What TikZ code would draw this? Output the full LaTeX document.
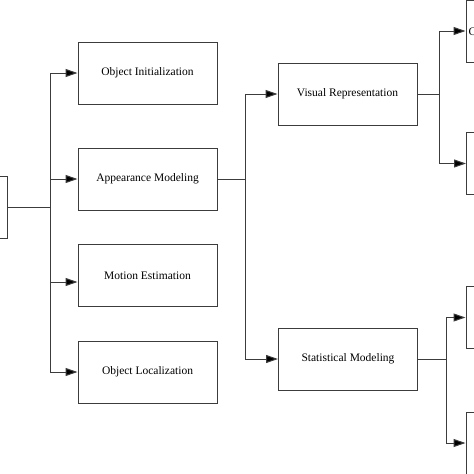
\documentclass[tikz,border=0pt]{standalone}
\usepackage{fontspec}
\setmainfont{Liberation Serif}
\usetikzlibrary{arrows.meta}

\definecolor{linegray}{HTML}{3C3C3C}

\begin{document}
\begin{tikzpicture}[
        x=1pt, y=1pt,
        box/.style={draw=linegray, line width=1pt, minimum width=139pt,
            minimum height=62pt, inner sep=0pt,
            font=\fontsize{11.5}{13}\selectfont},
        link/.style={draw=linegray, line width=1pt},
        arr/.style={link, -{Triangle[length=12pt,width=8pt,fill=black]}}
    ]
        \useasboundingbox (0,0) rectangle (474,-474);
        \clip (0,0) rectangle (474,-474);

        \node [box] (root) at (-62.5,-207) {};

        \node [box] (init) at (147.5,-73) {Object Initialization};
        \node [box] (app) at (147.5,-179) {Appearance Modeling};
        \node [box] (mot) at (147.5,-275.5) {Motion Estimation};
        \node [box] (loc) at (147.5,-372) {Object Localization};

        \node [box] (vis) at (347.5,-94) {Visual Representation};
        \node [box] (stat) at (348,-359) {Statistical Modeling};

        \node [box] (ra) at (535.5,-31) {};
        \node [box] (rb) at (536,-163.5) {};
        \node [box] (rc) at (535.5,-317.5) {};
        \node [box] (rd) at (535.5,-443) {};
        \node [anchor=west, inner sep=0pt, font=\fontsize{11.5}{13}\selectfont]
            (ratext) at ([xshift=3pt,yshift=-1pt]ra.west) {C};

        \coordinate (ja) at (50,-207);
        \coordinate (jb) at (245,-179);
        \coordinate (jc) at (439,-94);
        \coordinate (jd) at (446,-359);

        % first level
        \draw [link] (root.east) -- (ja);
        \draw [link] (ja |- init.west) -- (ja |- loc.west);
        \foreach \n in {init,app,loc}
            \draw [arr] (ja |- \n.west) -- (\n.west);
        \draw [arr] (ja |- 0,-282) -- (mot.west |- 0,-282);

        % appearance modeling
        \draw [link] (app.east) -- (jb);
        \draw [link] (jb |- vis.west) -- (jb |- stat.west);
        \foreach \n in {vis,stat}
            \draw [arr] (jb |- \n.west) -- (\n.west);

        % right column
        \draw [link] (vis.east) -- (jc);
        \draw [link] (jc |- ra.west) -- (jc |- rb.west);
        \foreach \n in {ra,rb}
            \draw [arr] (jc |- \n.west) -- (\n.west);
        \draw [link] (stat.east) -- (jd);
        \draw [link] (jd |- rc.west) -- (jd |- rd.west);
        \foreach \n in {rc,rd}
            \draw [arr] (jd |- \n.west) -- (\n.west);
    \end{tikzpicture}
\end{document}
